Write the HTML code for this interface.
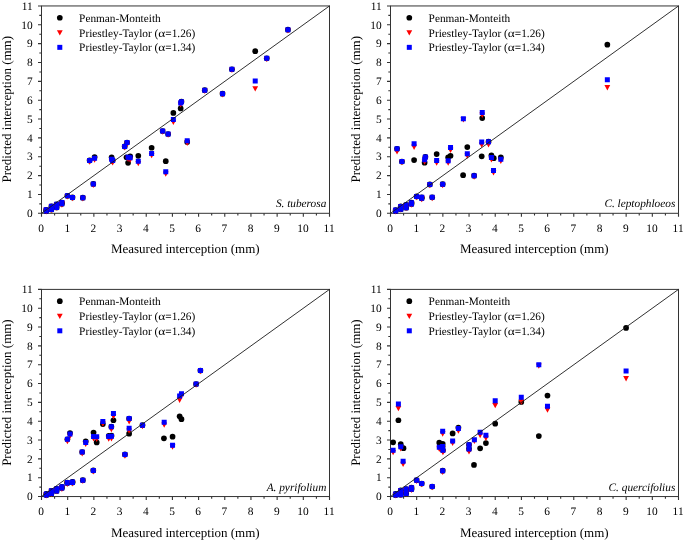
<!DOCTYPE html>
<html lang="en"><head><meta charset="utf-8"><title>Predicted vs measured interception</title>
<style>html,body{margin:0;padding:0;background:#fff}body{width:685px;height:542px;overflow:hidden}svg{display:block}text{text-rendering:geometricPrecision;font-family:"Liberation Serif","Times New Roman",serif;fill:#000}.t{font-size:11.4px}.l{font-size:11.3px}.a{font-size:13.0px}.i{font-style:italic}</style></head><body>
<svg width="685" height="542" viewBox="0 0 685 542">
<rect width="685" height="542" fill="#fff"/>
<g>
<path d="M41.50 213.30v3.5M41.50 213.30h-3.5M54.59 213.30v2.2M41.50 203.88h-2.2M67.68 213.30v3.5M41.50 194.45h-3.5M80.77 213.30v2.2M41.50 185.03h-2.2M93.86 213.30v3.5M41.50 175.60h-3.5M106.95 213.30v2.2M41.50 166.18h-2.2M120.05 213.30v3.5M41.50 156.75h-3.5M133.14 213.30v2.2M41.50 147.32h-2.2M146.23 213.30v3.5M41.50 137.90h-3.5M159.32 213.30v2.2M41.50 128.48h-2.2M172.41 213.30v3.5M41.50 119.05h-3.5M185.50 213.30v2.2M41.50 109.62h-2.2M198.59 213.30v3.5M41.50 100.20h-3.5M211.68 213.30v2.2M41.50 90.78h-2.2M224.77 213.30v3.5M41.50 81.35h-3.5M237.86 213.30v2.2M41.50 71.93h-2.2M250.95 213.30v3.5M41.50 62.50h-3.5M264.05 213.30v2.2M41.50 53.07h-2.2M277.14 213.30v3.5M41.50 43.65h-3.5M290.23 213.30v2.2M41.50 34.22h-2.2M303.32 213.30v3.5M41.50 24.80h-3.5M316.41 213.30v2.2M41.50 15.38h-2.2M329.50 213.30v3.5M41.50 5.95h-3.5" stroke="#333" stroke-width="1.1" fill="none"/>
<rect x="41.50" y="5.95" width="288.00" height="207.35" fill="none" stroke="#333" stroke-width="1"/>
<text class="t" x="41.10" y="232.00" text-anchor="middle">0</text>
<text class="t" x="32.70" y="217.00" text-anchor="end">0</text>
<text class="t" x="67.28" y="232.00" text-anchor="middle">1</text>
<text class="t" x="32.70" y="198.15" text-anchor="end">1</text>
<text class="t" x="93.46" y="232.00" text-anchor="middle">2</text>
<text class="t" x="32.70" y="179.30" text-anchor="end">2</text>
<text class="t" x="119.65" y="232.00" text-anchor="middle">3</text>
<text class="t" x="32.70" y="160.45" text-anchor="end">3</text>
<text class="t" x="145.83" y="232.00" text-anchor="middle">4</text>
<text class="t" x="32.70" y="141.60" text-anchor="end">4</text>
<text class="t" x="172.01" y="232.00" text-anchor="middle">5</text>
<text class="t" x="32.70" y="122.75" text-anchor="end">5</text>
<text class="t" x="198.19" y="232.00" text-anchor="middle">6</text>
<text class="t" x="32.70" y="103.90" text-anchor="end">6</text>
<text class="t" x="224.37" y="232.00" text-anchor="middle">7</text>
<text class="t" x="32.70" y="85.05" text-anchor="end">7</text>
<text class="t" x="250.55" y="232.00" text-anchor="middle">8</text>
<text class="t" x="32.70" y="66.20" text-anchor="end">8</text>
<text class="t" x="276.74" y="232.00" text-anchor="middle">9</text>
<text class="t" x="32.70" y="47.35" text-anchor="end">9</text>
<text class="t" x="302.92" y="232.00" text-anchor="middle">10</text>
<text class="t" x="32.70" y="28.50" text-anchor="end">10</text>
<text class="t" x="329.10" y="232.00" text-anchor="middle">11</text>
<text class="t" x="32.70" y="9.65" text-anchor="end">11</text>
<text class="a" x="185.30" y="253.30" text-anchor="middle">Measured interception (mm)</text>
<text class="a" transform="translate(11.10 109.22) rotate(-90)" text-anchor="middle">Predicted interception (mm)</text>
<text class="l i" x="326.30" y="207.40" text-anchor="end">S. tuberosa</text>
<g fill="#000"><circle cx="46.21" cy="209.80" r="2.85"/><circle cx="46.21" cy="211.03" r="2.85"/><circle cx="61.90" cy="203.87" r="2.85"/><circle cx="56.67" cy="204.25" r="2.85"/><circle cx="51.44" cy="206.32" r="2.85"/><circle cx="51.44" cy="209.52" r="2.85"/><circle cx="56.67" cy="204.81" r="2.85"/><circle cx="56.67" cy="207.45" r="2.85"/><circle cx="61.90" cy="202.56" r="2.85"/><circle cx="67.40" cy="195.78" r="2.85"/><circle cx="72.50" cy="197.47" r="2.85"/><circle cx="82.83" cy="197.66" r="2.85"/><circle cx="93.30" cy="183.91" r="2.85"/><circle cx="89.63" cy="160.38" r="2.85"/><circle cx="94.60" cy="156.99" r="2.85"/><circle cx="111.61" cy="157.36" r="2.85"/><circle cx="112.66" cy="160.38" r="2.85"/><circle cx="124.69" cy="146.44" r="2.85"/><circle cx="127.04" cy="142.49" r="2.85"/><circle cx="128.09" cy="162.82" r="2.85"/><circle cx="130.18" cy="156.23" r="2.85"/><circle cx="126.52" cy="157.36" r="2.85"/><circle cx="138.29" cy="155.86" r="2.85"/><circle cx="151.63" cy="147.76" r="2.85"/><circle cx="162.62" cy="131.00" r="2.85"/><circle cx="168.11" cy="134.01" r="2.85"/><circle cx="165.76" cy="161.13" r="2.85"/><circle cx="173.35" cy="112.92" r="2.85"/><circle cx="180.67" cy="108.41" r="2.85"/><circle cx="181.46" cy="101.63" r="2.85"/><circle cx="187.21" cy="141.92" r="2.85"/><circle cx="204.74" cy="90.14" r="2.85"/><circle cx="222.53" cy="93.72" r="2.85"/><circle cx="231.94" cy="69.24" r="2.85"/><circle cx="255.23" cy="51.16" r="2.85"/><circle cx="266.74" cy="58.32" r="2.85"/><circle cx="287.93" cy="29.70" r="2.85"/></g>
<path fill="#f00" d="M43.31 207.80h5.8l-2.9 5.3zM43.31 209.12h5.8l-2.9 5.3zM59.00 202.34h5.8l-2.9 5.3zM53.77 202.53h5.8l-2.9 5.3zM48.54 204.41h5.8l-2.9 5.3zM48.54 207.61h5.8l-2.9 5.3zM53.77 203.09h5.8l-2.9 5.3zM53.77 205.54h5.8l-2.9 5.3zM59.00 200.83h5.8l-2.9 5.3zM64.50 194.24h5.8l-2.9 5.3zM69.60 195.94h5.8l-2.9 5.3zM79.93 196.12h5.8l-2.9 5.3zM90.40 182.75h5.8l-2.9 5.3zM86.73 159.41h5.8l-2.9 5.3zM91.70 157.52h5.8l-2.9 5.3zM108.71 159.03h5.8l-2.9 5.3zM109.76 160.16h5.8l-2.9 5.3zM121.79 145.09h5.8l-2.9 5.3zM124.14 141.71h5.8l-2.9 5.3zM125.19 156.77h5.8l-2.9 5.3zM127.28 157.52h5.8l-2.9 5.3zM135.39 160.91h5.8l-2.9 5.3zM148.73 153.00h5.8l-2.9 5.3zM159.72 129.47h5.8l-2.9 5.3zM165.21 132.48h5.8l-2.9 5.3zM162.86 171.46h5.8l-2.9 5.3zM170.45 119.67h5.8l-2.9 5.3zM177.77 102.16h5.8l-2.9 5.3zM178.56 100.66h5.8l-2.9 5.3zM184.31 140.58h5.8l-2.9 5.3zM201.84 88.61h5.8l-2.9 5.3zM219.63 92.18h5.8l-2.9 5.3zM229.04 67.70h5.8l-2.9 5.3zM252.33 86.16h5.8l-2.9 5.3zM263.84 56.78h5.8l-2.9 5.3zM285.03 28.16h5.8l-2.9 5.3z"/>
<path fill="#00f" d="M43.71 207.30h5v5h-5zM43.71 208.53h5v5h-5zM59.40 201.37h5v5h-5zM54.17 201.75h5v5h-5zM48.94 203.82h5v5h-5zM48.94 207.02h5v5h-5zM54.17 202.31h5v5h-5zM54.17 204.95h5v5h-5zM59.40 200.06h5v5h-5zM64.90 193.28h5v5h-5zM70.00 194.97h5v5h-5zM80.33 195.16h5v5h-5zM90.80 181.41h5v5h-5zM87.13 157.88h5v5h-5zM92.10 155.80h5v5h-5zM109.11 156.75h5v5h-5zM110.16 157.88h5v5h-5zM122.19 143.94h5v5h-5zM124.54 139.99h5v5h-5zM125.59 154.86h5v5h-5zM127.68 155.24h5v5h-5zM135.79 158.63h5v5h-5zM149.13 150.91h5v5h-5zM160.12 128.50h5v5h-5zM165.61 131.51h5v5h-5zM163.26 169.36h5v5h-5zM170.85 117.01h5v5h-5zM178.17 100.44h5v5h-5zM178.96 99.13h5v5h-5zM184.71 138.29h5v5h-5zM202.24 87.64h5v5h-5zM220.03 91.22h5v5h-5zM229.44 66.74h5v5h-5zM252.73 78.60h5v5h-5zM264.24 55.82h5v5h-5zM285.43 27.20h5v5h-5z"/>
<line x1="41.50" y1="213.30" x2="329.50" y2="5.95" stroke="#1a1a1a" stroke-width="0.9"/>
<circle cx="59.80" cy="17.75" r="2.85" fill="#000"/>
<path fill="#f00" d="M56.90 30.25h5.8l-2.9 5.3z"/>
<path fill="#00f" d="M57.30 44.85h5v5h-5z"/>
<text class="l" x="79.10" y="22.00">Penman-Monteith</text>
<text class="l" x="79.10" y="37.00">Priestley-Taylor (<tspan textLength="7" lengthAdjust="spacingAndGlyphs">α</tspan>=1.26)</text>
<text class="l" x="79.10" y="51.00">Priestley-Taylor (<tspan textLength="7" lengthAdjust="spacingAndGlyphs">α</tspan>=1.34)</text>
</g>
<g>
<path d="M390.50 213.30v3.5M390.50 213.30h-3.5M403.59 213.30v2.2M390.50 203.88h-2.2M416.68 213.30v3.5M390.50 194.45h-3.5M429.77 213.30v2.2M390.50 185.03h-2.2M442.86 213.30v3.5M390.50 175.60h-3.5M455.95 213.30v2.2M390.50 166.18h-2.2M469.05 213.30v3.5M390.50 156.75h-3.5M482.14 213.30v2.2M390.50 147.32h-2.2M495.23 213.30v3.5M390.50 137.90h-3.5M508.32 213.30v2.2M390.50 128.48h-2.2M521.41 213.30v3.5M390.50 119.05h-3.5M534.50 213.30v2.2M390.50 109.62h-2.2M547.59 213.30v3.5M390.50 100.20h-3.5M560.68 213.30v2.2M390.50 90.78h-2.2M573.77 213.30v3.5M390.50 81.35h-3.5M586.86 213.30v2.2M390.50 71.93h-2.2M599.95 213.30v3.5M390.50 62.50h-3.5M613.05 213.30v2.2M390.50 53.07h-2.2M626.14 213.30v3.5M390.50 43.65h-3.5M639.23 213.30v2.2M390.50 34.22h-2.2M652.32 213.30v3.5M390.50 24.80h-3.5M665.41 213.30v2.2M390.50 15.38h-2.2M678.50 213.30v3.5M390.50 5.95h-3.5" stroke="#333" stroke-width="1.1" fill="none"/>
<rect x="390.50" y="5.95" width="288.00" height="207.35" fill="none" stroke="#333" stroke-width="1"/>
<text class="t" x="390.10" y="232.00" text-anchor="middle">0</text>
<text class="t" x="381.70" y="217.00" text-anchor="end">0</text>
<text class="t" x="416.28" y="232.00" text-anchor="middle">1</text>
<text class="t" x="381.70" y="198.15" text-anchor="end">1</text>
<text class="t" x="442.46" y="232.00" text-anchor="middle">2</text>
<text class="t" x="381.70" y="179.30" text-anchor="end">2</text>
<text class="t" x="468.65" y="232.00" text-anchor="middle">3</text>
<text class="t" x="381.70" y="160.45" text-anchor="end">3</text>
<text class="t" x="494.83" y="232.00" text-anchor="middle">4</text>
<text class="t" x="381.70" y="141.60" text-anchor="end">4</text>
<text class="t" x="521.01" y="232.00" text-anchor="middle">5</text>
<text class="t" x="381.70" y="122.75" text-anchor="end">5</text>
<text class="t" x="547.19" y="232.00" text-anchor="middle">6</text>
<text class="t" x="381.70" y="103.90" text-anchor="end">6</text>
<text class="t" x="573.37" y="232.00" text-anchor="middle">7</text>
<text class="t" x="381.70" y="85.05" text-anchor="end">7</text>
<text class="t" x="599.55" y="232.00" text-anchor="middle">8</text>
<text class="t" x="381.70" y="66.20" text-anchor="end">8</text>
<text class="t" x="625.74" y="232.00" text-anchor="middle">9</text>
<text class="t" x="381.70" y="47.35" text-anchor="end">9</text>
<text class="t" x="651.92" y="232.00" text-anchor="middle">10</text>
<text class="t" x="381.70" y="28.50" text-anchor="end">10</text>
<text class="t" x="678.10" y="232.00" text-anchor="middle">11</text>
<text class="t" x="381.70" y="9.65" text-anchor="end">11</text>
<text class="a" x="534.30" y="253.30" text-anchor="middle">Measured interception (mm)</text>
<text class="a" transform="translate(360.10 109.22) rotate(-90)" text-anchor="middle">Predicted interception (mm)</text>
<text class="l i" x="675.30" y="207.40" text-anchor="end">C. leptophloeos</text>
<g fill="#000"><circle cx="395.67" cy="209.99" r="2.85"/><circle cx="395.67" cy="211.12" r="2.85"/><circle cx="411.50" cy="203.96" r="2.85"/><circle cx="421.72" cy="198.31" r="2.85"/><circle cx="400.76" cy="206.41" r="2.85"/><circle cx="400.76" cy="209.23" r="2.85"/><circle cx="406.18" cy="204.90" r="2.85"/><circle cx="406.18" cy="207.73" r="2.85"/><circle cx="411.50" cy="202.64" r="2.85"/><circle cx="416.61" cy="196.43" r="2.85"/><circle cx="421.72" cy="197.37" r="2.85"/><circle cx="432.20" cy="197.37" r="2.85"/><circle cx="429.84" cy="184.38" r="2.85"/><circle cx="442.68" cy="184.19" r="2.85"/><circle cx="397.04" cy="148.79" r="2.85"/><circle cx="401.94" cy="161.59" r="2.85"/><circle cx="414.09" cy="160.09" r="2.85"/><circle cx="425.38" cy="156.89" r="2.85"/><circle cx="424.60" cy="162.72" r="2.85"/><circle cx="436.65" cy="154.06" r="2.85"/><circle cx="450.54" cy="155.76" r="2.85"/><circle cx="448.18" cy="157.26" r="2.85"/><circle cx="467.30" cy="147.09" r="2.85"/><circle cx="463.11" cy="175.15" r="2.85"/><circle cx="474.12" cy="175.72" r="2.85"/><circle cx="482.24" cy="118.10" r="2.85"/><circle cx="481.71" cy="156.32" r="2.85"/><circle cx="488.53" cy="141.63" r="2.85"/><circle cx="491.41" cy="155.38" r="2.85"/><circle cx="493.77" cy="158.20" r="2.85"/><circle cx="500.84" cy="157.45" r="2.85"/><circle cx="607.34" cy="44.66" r="2.85"/></g>
<path fill="#f00" d="M392.77 207.98h5.8l-2.9 5.3zM392.77 209.21h5.8l-2.9 5.3zM408.60 202.43h5.8l-2.9 5.3zM418.82 196.97h5.8l-2.9 5.3zM397.86 204.50h5.8l-2.9 5.3zM397.86 207.32h5.8l-2.9 5.3zM403.28 203.18h5.8l-2.9 5.3zM403.28 205.82h5.8l-2.9 5.3zM408.60 200.92h5.8l-2.9 5.3zM413.71 194.89h5.8l-2.9 5.3zM418.82 195.84h5.8l-2.9 5.3zM429.30 195.84h5.8l-2.9 5.3zM426.94 183.03h5.8l-2.9 5.3zM439.78 183.03h5.8l-2.9 5.3zM394.14 149.14h5.8l-2.9 5.3zM399.04 160.06h5.8l-2.9 5.3zM411.19 144.62h5.8l-2.9 5.3zM422.48 156.67h5.8l-2.9 5.3zM421.70 159.49h5.8l-2.9 5.3zM433.75 160.44h5.8l-2.9 5.3zM447.64 147.63h5.8l-2.9 5.3zM445.28 160.44h5.8l-2.9 5.3zM460.47 117.13h5.8l-2.9 5.3zM464.40 153.47h5.8l-2.9 5.3zM471.22 174.56h5.8l-2.9 5.3zM479.34 112.61h5.8l-2.9 5.3zM478.81 142.55h5.8l-2.9 5.3zM485.63 142.17h5.8l-2.9 5.3zM488.51 157.23h5.8l-2.9 5.3zM490.60 170.23h5.8l-2.9 5.3zM497.94 158.74h5.8l-2.9 5.3zM604.44 85.12h5.8l-2.9 5.3z"/>
<path fill="#00f" d="M393.17 207.49h5v5h-5zM393.17 208.62h5v5h-5zM409.00 201.46h5v5h-5zM419.22 195.81h5v5h-5zM398.26 203.91h5v5h-5zM398.26 206.73h5v5h-5zM403.68 202.40h5v5h-5zM403.68 205.23h5v5h-5zM409.00 200.14h5v5h-5zM414.11 193.93h5v5h-5zM419.22 194.87h5v5h-5zM429.70 194.87h5v5h-5zM427.34 181.88h5v5h-5zM440.18 181.69h5v5h-5zM394.54 146.29h5v5h-5zM399.44 159.09h5v5h-5zM411.59 141.21h5v5h-5zM422.88 154.39h5v5h-5zM422.10 157.21h5v5h-5zM434.15 157.96h5v5h-5zM448.04 144.97h5v5h-5zM445.68 158.15h5v5h-5zM460.87 116.16h5v5h-5zM464.80 151.19h5v5h-5zM471.62 173.22h5v5h-5zM479.74 109.95h5v5h-5zM479.21 139.51h5v5h-5zM486.03 139.13h5v5h-5zM488.91 154.95h5v5h-5zM491.00 167.94h5v5h-5zM498.34 156.83h5v5h-5zM604.84 77.37h5v5h-5z"/>
<line x1="390.50" y1="213.30" x2="678.50" y2="5.95" stroke="#1a1a1a" stroke-width="0.9"/>
<circle cx="409.30" cy="17.75" r="2.85" fill="#000"/>
<path fill="#f00" d="M406.40 30.25h5.8l-2.9 5.3z"/>
<path fill="#00f" d="M406.80 44.85h5v5h-5z"/>
<text class="l" x="428.60" y="22.00">Penman-Monteith</text>
<text class="l" x="428.60" y="37.00">Priestley-Taylor (<tspan textLength="7" lengthAdjust="spacingAndGlyphs">α</tspan>=1.26)</text>
<text class="l" x="428.60" y="51.00">Priestley-Taylor (<tspan textLength="7" lengthAdjust="spacingAndGlyphs">α</tspan>=1.34)</text>
</g>
<g>
<path d="M41.50 496.55v3.5M41.50 496.55h-3.5M54.59 496.55v2.2M41.50 487.13h-2.2M67.68 496.55v3.5M41.50 477.72h-3.5M80.77 496.55v2.2M41.50 468.30h-2.2M93.86 496.55v3.5M41.50 458.89h-3.5M106.95 496.55v2.2M41.50 449.47h-2.2M120.05 496.55v3.5M41.50 440.05h-3.5M133.14 496.55v2.2M41.50 430.64h-2.2M146.23 496.55v3.5M41.50 421.22h-3.5M159.32 496.55v2.2M41.50 411.81h-2.2M172.41 496.55v3.5M41.50 402.39h-3.5M185.50 496.55v2.2M41.50 392.98h-2.2M198.59 496.55v3.5M41.50 383.56h-3.5M211.68 496.55v2.2M41.50 374.14h-2.2M224.77 496.55v3.5M41.50 364.73h-3.5M237.86 496.55v2.2M41.50 355.31h-2.2M250.95 496.55v3.5M41.50 345.90h-3.5M264.05 496.55v2.2M41.50 336.48h-2.2M277.14 496.55v3.5M41.50 327.06h-3.5M290.23 496.55v2.2M41.50 317.65h-2.2M303.32 496.55v3.5M41.50 308.23h-3.5M316.41 496.55v2.2M41.50 298.82h-2.2M329.50 496.55v3.5M41.50 289.40h-3.5" stroke="#333" stroke-width="1.1" fill="none"/>
<rect x="41.50" y="289.40" width="288.00" height="207.15" fill="none" stroke="#333" stroke-width="1"/>
<text class="t" x="41.10" y="515.25" text-anchor="middle">0</text>
<text class="t" x="32.70" y="500.25" text-anchor="end">0</text>
<text class="t" x="67.28" y="515.25" text-anchor="middle">1</text>
<text class="t" x="32.70" y="481.42" text-anchor="end">1</text>
<text class="t" x="93.46" y="515.25" text-anchor="middle">2</text>
<text class="t" x="32.70" y="462.59" text-anchor="end">2</text>
<text class="t" x="119.65" y="515.25" text-anchor="middle">3</text>
<text class="t" x="32.70" y="443.75" text-anchor="end">3</text>
<text class="t" x="145.83" y="515.25" text-anchor="middle">4</text>
<text class="t" x="32.70" y="424.92" text-anchor="end">4</text>
<text class="t" x="172.01" y="515.25" text-anchor="middle">5</text>
<text class="t" x="32.70" y="406.09" text-anchor="end">5</text>
<text class="t" x="198.19" y="515.25" text-anchor="middle">6</text>
<text class="t" x="32.70" y="387.26" text-anchor="end">6</text>
<text class="t" x="224.37" y="515.25" text-anchor="middle">7</text>
<text class="t" x="32.70" y="368.43" text-anchor="end">7</text>
<text class="t" x="250.55" y="515.25" text-anchor="middle">8</text>
<text class="t" x="32.70" y="349.60" text-anchor="end">8</text>
<text class="t" x="276.74" y="515.25" text-anchor="middle">9</text>
<text class="t" x="32.70" y="330.76" text-anchor="end">9</text>
<text class="t" x="302.92" y="515.25" text-anchor="middle">10</text>
<text class="t" x="32.70" y="311.93" text-anchor="end">10</text>
<text class="t" x="329.10" y="515.25" text-anchor="middle">11</text>
<text class="t" x="32.70" y="293.10" text-anchor="end">11</text>
<text class="a" x="185.30" y="536.55" text-anchor="middle">Measured interception (mm)</text>
<text class="a" transform="translate(11.10 392.58) rotate(-90)" text-anchor="middle">Predicted interception (mm)</text>
<text class="l i" x="326.30" y="490.65" text-anchor="end">A. pyrifolium</text>
<g fill="#000"><circle cx="46.34" cy="493.96" r="2.85"/><circle cx="46.34" cy="495.09" r="2.85"/><circle cx="61.90" cy="488.12" r="2.85"/><circle cx="51.44" cy="493.40" r="2.85"/><circle cx="67.27" cy="483.03" r="2.85"/><circle cx="72.50" cy="482.46" r="2.85"/><circle cx="51.44" cy="490.76" r="2.85"/><circle cx="51.44" cy="492.64" r="2.85"/><circle cx="56.67" cy="488.87" r="2.85"/><circle cx="56.67" cy="490.95" r="2.85"/><circle cx="61.90" cy="486.80" r="2.85"/><circle cx="67.27" cy="482.54" r="2.85"/><circle cx="72.50" cy="481.90" r="2.85"/><circle cx="82.83" cy="480.20" r="2.85"/><circle cx="93.30" cy="470.47" r="2.85"/><circle cx="82.18" cy="452.11" r="2.85"/><circle cx="67.40" cy="439.30" r="2.85"/><circle cx="70.01" cy="433.08" r="2.85"/><circle cx="85.71" cy="441.37" r="2.85"/><circle cx="93.56" cy="432.51" r="2.85"/><circle cx="96.70" cy="442.41" r="2.85"/><circle cx="102.85" cy="424.03" r="2.85"/><circle cx="108.73" cy="435.90" r="2.85"/><circle cx="111.48" cy="435.71" r="2.85"/><circle cx="111.35" cy="426.67" r="2.85"/><circle cx="113.44" cy="420.26" r="2.85"/><circle cx="129.14" cy="418.56" r="2.85"/><circle cx="129.14" cy="433.64" r="2.85"/><circle cx="124.95" cy="454.38" r="2.85"/><circle cx="142.48" cy="425.16" r="2.85"/><circle cx="163.93" cy="438.35" r="2.85"/><circle cx="172.56" cy="436.66" r="2.85"/><circle cx="179.62" cy="416.30" r="2.85"/><circle cx="181.46" cy="419.13" r="2.85"/><circle cx="196.11" cy="384.07" r="2.85"/><circle cx="200.42" cy="370.49" r="2.85"/></g>
<path fill="#f00" d="M43.44 492.05h5.8l-2.9 5.3zM43.44 493.18h5.8l-2.9 5.3zM59.00 486.58h5.8l-2.9 5.3zM48.54 491.67h5.8l-2.9 5.3zM64.37 481.68h5.8l-2.9 5.3zM69.60 481.12h5.8l-2.9 5.3zM48.54 488.85h5.8l-2.9 5.3zM48.54 490.73h5.8l-2.9 5.3zM53.77 486.96h5.8l-2.9 5.3zM53.77 489.03h5.8l-2.9 5.3zM59.00 485.07h5.8l-2.9 5.3zM64.37 480.93h5.8l-2.9 5.3zM69.60 480.36h5.8l-2.9 5.3zM79.93 478.67h5.8l-2.9 5.3zM90.40 469.24h5.8l-2.9 5.3zM79.28 451.14h5.8l-2.9 5.3zM64.50 438.89h5.8l-2.9 5.3zM67.11 433.80h5.8l-2.9 5.3zM82.81 441.72h5.8l-2.9 5.3zM90.66 436.25h5.8l-2.9 5.3zM93.80 436.63h5.8l-2.9 5.3zM99.95 421.36h5.8l-2.9 5.3zM105.83 436.44h5.8l-2.9 5.3zM108.58 436.25h5.8l-2.9 5.3zM108.45 427.02h5.8l-2.9 5.3zM110.54 414.01h5.8l-2.9 5.3zM126.24 419.10h5.8l-2.9 5.3zM126.24 428.52h5.8l-2.9 5.3zM122.05 453.41h5.8l-2.9 5.3zM139.58 424.00h5.8l-2.9 5.3zM161.29 422.49h5.8l-2.9 5.3zM169.66 444.55h5.8l-2.9 5.3zM176.72 397.61h5.8l-2.9 5.3zM178.56 393.46h5.8l-2.9 5.3zM193.21 382.53h5.8l-2.9 5.3zM197.52 368.96h5.8l-2.9 5.3z"/>
<path fill="#00f" d="M43.84 491.46h5v5h-5zM43.84 492.59h5v5h-5zM59.40 485.62h5v5h-5zM48.94 490.90h5v5h-5zM64.77 480.53h5v5h-5zM70.00 479.96h5v5h-5zM48.94 488.26h5v5h-5zM48.94 490.14h5v5h-5zM54.17 486.37h5v5h-5zM54.17 488.45h5v5h-5zM59.40 484.30h5v5h-5zM64.77 480.04h5v5h-5zM70.00 479.40h5v5h-5zM80.33 477.70h5v5h-5zM90.80 467.97h5v5h-5zM79.68 449.61h5v5h-5zM64.90 436.80h5v5h-5zM67.51 431.52h5v5h-5zM83.21 439.91h5v5h-5zM91.06 433.97h5v5h-5zM94.20 434.35h5v5h-5zM100.35 418.89h5v5h-5zM106.23 433.97h5v5h-5zM108.98 433.78h5v5h-5zM108.85 424.17h5v5h-5zM110.94 410.97h5v5h-5zM126.64 416.06h5v5h-5zM126.64 425.67h5v5h-5zM122.45 451.88h5v5h-5zM139.98 422.66h5v5h-5zM161.69 419.64h5v5h-5zM170.06 442.64h5v5h-5zM177.12 393.44h5v5h-5zM178.96 391.18h5v5h-5zM193.61 381.57h5v5h-5zM197.92 367.99h5v5h-5z"/>
<line x1="41.50" y1="496.55" x2="329.50" y2="289.40" stroke="#1a1a1a" stroke-width="0.9"/>
<circle cx="59.80" cy="301.20" r="2.85" fill="#000"/>
<path fill="#f00" d="M56.90 313.70h5.8l-2.9 5.3z"/>
<path fill="#00f" d="M57.30 328.30h5v5h-5z"/>
<text class="l" x="79.10" y="305.00">Penman-Monteith</text>
<text class="l" x="79.10" y="320.00">Priestley-Taylor (<tspan textLength="7" lengthAdjust="spacingAndGlyphs">α</tspan>=1.26)</text>
<text class="l" x="79.10" y="335.00">Priestley-Taylor (<tspan textLength="7" lengthAdjust="spacingAndGlyphs">α</tspan>=1.34)</text>
</g>
<g>
<path d="M390.50 496.55v3.5M390.50 496.55h-3.5M403.59 496.55v2.2M390.50 487.13h-2.2M416.68 496.55v3.5M390.50 477.72h-3.5M429.77 496.55v2.2M390.50 468.30h-2.2M442.86 496.55v3.5M390.50 458.89h-3.5M455.95 496.55v2.2M390.50 449.47h-2.2M469.05 496.55v3.5M390.50 440.05h-3.5M482.14 496.55v2.2M390.50 430.64h-2.2M495.23 496.55v3.5M390.50 421.22h-3.5M508.32 496.55v2.2M390.50 411.81h-2.2M521.41 496.55v3.5M390.50 402.39h-3.5M534.50 496.55v2.2M390.50 392.98h-2.2M547.59 496.55v3.5M390.50 383.56h-3.5M560.68 496.55v2.2M390.50 374.14h-2.2M573.77 496.55v3.5M390.50 364.73h-3.5M586.86 496.55v2.2M390.50 355.31h-2.2M599.95 496.55v3.5M390.50 345.90h-3.5M613.05 496.55v2.2M390.50 336.48h-2.2M626.14 496.55v3.5M390.50 327.06h-3.5M639.23 496.55v2.2M390.50 317.65h-2.2M652.32 496.55v3.5M390.50 308.23h-3.5M665.41 496.55v2.2M390.50 298.82h-2.2M678.50 496.55v3.5M390.50 289.40h-3.5" stroke="#333" stroke-width="1.1" fill="none"/>
<rect x="390.50" y="289.40" width="288.00" height="207.15" fill="none" stroke="#333" stroke-width="1"/>
<text class="t" x="390.10" y="515.25" text-anchor="middle">0</text>
<text class="t" x="381.70" y="500.25" text-anchor="end">0</text>
<text class="t" x="416.28" y="515.25" text-anchor="middle">1</text>
<text class="t" x="381.70" y="481.42" text-anchor="end">1</text>
<text class="t" x="442.46" y="515.25" text-anchor="middle">2</text>
<text class="t" x="381.70" y="462.59" text-anchor="end">2</text>
<text class="t" x="468.65" y="515.25" text-anchor="middle">3</text>
<text class="t" x="381.70" y="443.75" text-anchor="end">3</text>
<text class="t" x="494.83" y="515.25" text-anchor="middle">4</text>
<text class="t" x="381.70" y="424.92" text-anchor="end">4</text>
<text class="t" x="521.01" y="515.25" text-anchor="middle">5</text>
<text class="t" x="381.70" y="406.09" text-anchor="end">5</text>
<text class="t" x="547.19" y="515.25" text-anchor="middle">6</text>
<text class="t" x="381.70" y="387.26" text-anchor="end">6</text>
<text class="t" x="573.37" y="515.25" text-anchor="middle">7</text>
<text class="t" x="381.70" y="368.43" text-anchor="end">7</text>
<text class="t" x="599.55" y="515.25" text-anchor="middle">8</text>
<text class="t" x="381.70" y="349.60" text-anchor="end">8</text>
<text class="t" x="625.74" y="515.25" text-anchor="middle">9</text>
<text class="t" x="381.70" y="330.76" text-anchor="end">9</text>
<text class="t" x="651.92" y="515.25" text-anchor="middle">10</text>
<text class="t" x="381.70" y="311.93" text-anchor="end">10</text>
<text class="t" x="678.10" y="515.25" text-anchor="middle">11</text>
<text class="t" x="381.70" y="293.10" text-anchor="end">11</text>
<text class="a" x="534.30" y="536.55" text-anchor="middle">Measured interception (mm)</text>
<text class="a" transform="translate(360.10 392.58) rotate(-90)" text-anchor="middle">Predicted interception (mm)</text>
<text class="l i" x="675.30" y="490.65" text-anchor="end">C. quercifolius</text>
<g fill="#000"><circle cx="395.67" cy="493.96" r="2.85"/><circle cx="395.67" cy="495.09" r="2.85"/><circle cx="400.76" cy="494.72" r="2.85"/><circle cx="411.50" cy="489.25" r="2.85"/><circle cx="400.76" cy="490.38" r="2.85"/><circle cx="400.76" cy="493.02" r="2.85"/><circle cx="406.18" cy="489.06" r="2.85"/><circle cx="406.18" cy="491.32" r="2.85"/><circle cx="406.18" cy="493.40" r="2.85"/><circle cx="411.50" cy="487.65" r="2.85"/><circle cx="416.61" cy="480.20" r="2.85"/><circle cx="421.72" cy="483.59" r="2.85"/><circle cx="432.20" cy="486.61" r="2.85"/><circle cx="442.68" cy="470.68" r="2.85"/><circle cx="398.40" cy="420.26" r="2.85"/><circle cx="393.11" cy="442.31" r="2.85"/><circle cx="400.76" cy="444.20" r="2.85"/><circle cx="403.51" cy="448.16" r="2.85"/><circle cx="442.68" cy="443.82" r="2.85"/><circle cx="452.63" cy="433.45" r="2.85"/><circle cx="439.27" cy="442.69" r="2.85"/><circle cx="442.60" cy="446.46" r="2.85"/><circle cx="442.94" cy="450.23" r="2.85"/><circle cx="458.40" cy="427.61" r="2.85"/><circle cx="469.01" cy="444.76" r="2.85"/><circle cx="469.01" cy="448.91" r="2.85"/><circle cx="473.99" cy="464.93" r="2.85"/><circle cx="480.14" cy="448.34" r="2.85"/><circle cx="485.91" cy="443.07" r="2.85"/><circle cx="495.21" cy="423.65" r="2.85"/><circle cx="521.28" cy="401.97" r="2.85"/><circle cx="538.83" cy="436.09" r="2.85"/><circle cx="547.48" cy="395.56" r="2.85"/><circle cx="626.08" cy="327.89" r="2.85"/></g>
<path fill="#f00" d="M392.77 491.96h5.8l-2.9 5.3zM392.77 493.18h5.8l-2.9 5.3zM397.86 492.80h5.8l-2.9 5.3zM408.60 487.71h5.8l-2.9 5.3zM397.86 488.47h5.8l-2.9 5.3zM397.86 491.11h5.8l-2.9 5.3zM403.28 487.34h5.8l-2.9 5.3zM403.28 489.41h5.8l-2.9 5.3zM403.28 491.48h5.8l-2.9 5.3zM408.60 485.83h5.8l-2.9 5.3zM413.71 478.67h5.8l-2.9 5.3zM418.82 482.06h5.8l-2.9 5.3zM429.30 484.89h5.8l-2.9 5.3zM439.78 469.62h5.8l-2.9 5.3zM400.21 461.70h5.8l-2.9 5.3zM395.50 405.90h5.8l-2.9 5.3zM390.21 450.01h5.8l-2.9 5.3zM397.86 446.24h5.8l-2.9 5.3zM439.78 431.35h5.8l-2.9 5.3zM449.73 440.78h5.8l-2.9 5.3zM436.37 446.62h5.8l-2.9 5.3zM439.70 446.24h5.8l-2.9 5.3zM440.04 450.01h5.8l-2.9 5.3zM455.50 428.52h5.8l-2.9 5.3zM466.11 444.55h5.8l-2.9 5.3zM466.11 449.26h5.8l-2.9 5.3zM471.48 438.70h5.8l-2.9 5.3zM477.24 432.86h5.8l-2.9 5.3zM483.01 435.69h5.8l-2.9 5.3zM492.31 402.89h5.8l-2.9 5.3zM518.38 399.50h5.8l-2.9 5.3zM535.93 363.49h5.8l-2.9 5.3zM544.58 407.41h5.8l-2.9 5.3zM623.18 376.12h5.8l-2.9 5.3z"/>
<path fill="#00f" d="M393.17 491.46h5v5h-5zM393.17 492.59h5v5h-5zM398.26 492.22h5v5h-5zM409.00 486.75h5v5h-5zM398.26 487.88h5v5h-5zM398.26 490.52h5v5h-5zM403.68 486.56h5v5h-5zM403.68 488.82h5v5h-5zM403.68 490.90h5v5h-5zM409.00 485.15h5v5h-5zM414.11 477.70h5v5h-5zM419.22 481.09h5v5h-5zM429.70 484.11h5v5h-5zM440.18 468.18h5v5h-5zM400.61 458.66h5v5h-5zM395.90 401.55h5v5h-5zM390.61 447.73h5v5h-5zM398.26 444.34h5v5h-5zM440.18 428.69h5v5h-5zM450.13 438.49h5v5h-5zM436.77 444.71h5v5h-5zM440.10 443.96h5v5h-5zM440.44 447.73h5v5h-5zM455.90 426.05h5v5h-5zM466.51 442.26h5v5h-5zM466.51 446.41h5v5h-5zM471.88 437.36h5v5h-5zM477.64 429.82h5v5h-5zM483.41 432.65h5v5h-5zM492.71 398.34h5v5h-5zM518.78 394.76h5v5h-5zM536.33 362.15h5v5h-5zM544.98 403.81h5v5h-5zM623.58 368.56h5v5h-5z"/>
<line x1="390.50" y1="496.55" x2="678.50" y2="289.40" stroke="#1a1a1a" stroke-width="0.9"/>
<circle cx="409.30" cy="301.20" r="2.85" fill="#000"/>
<path fill="#f00" d="M406.40 313.70h5.8l-2.9 5.3z"/>
<path fill="#00f" d="M406.80 328.30h5v5h-5z"/>
<text class="l" x="428.60" y="305.00">Penman-Monteith</text>
<text class="l" x="428.60" y="320.00">Priestley-Taylor (<tspan textLength="7" lengthAdjust="spacingAndGlyphs">α</tspan>=1.26)</text>
<text class="l" x="428.60" y="335.00">Priestley-Taylor (<tspan textLength="7" lengthAdjust="spacingAndGlyphs">α</tspan>=1.34)</text>
</g>
</svg></body></html>
